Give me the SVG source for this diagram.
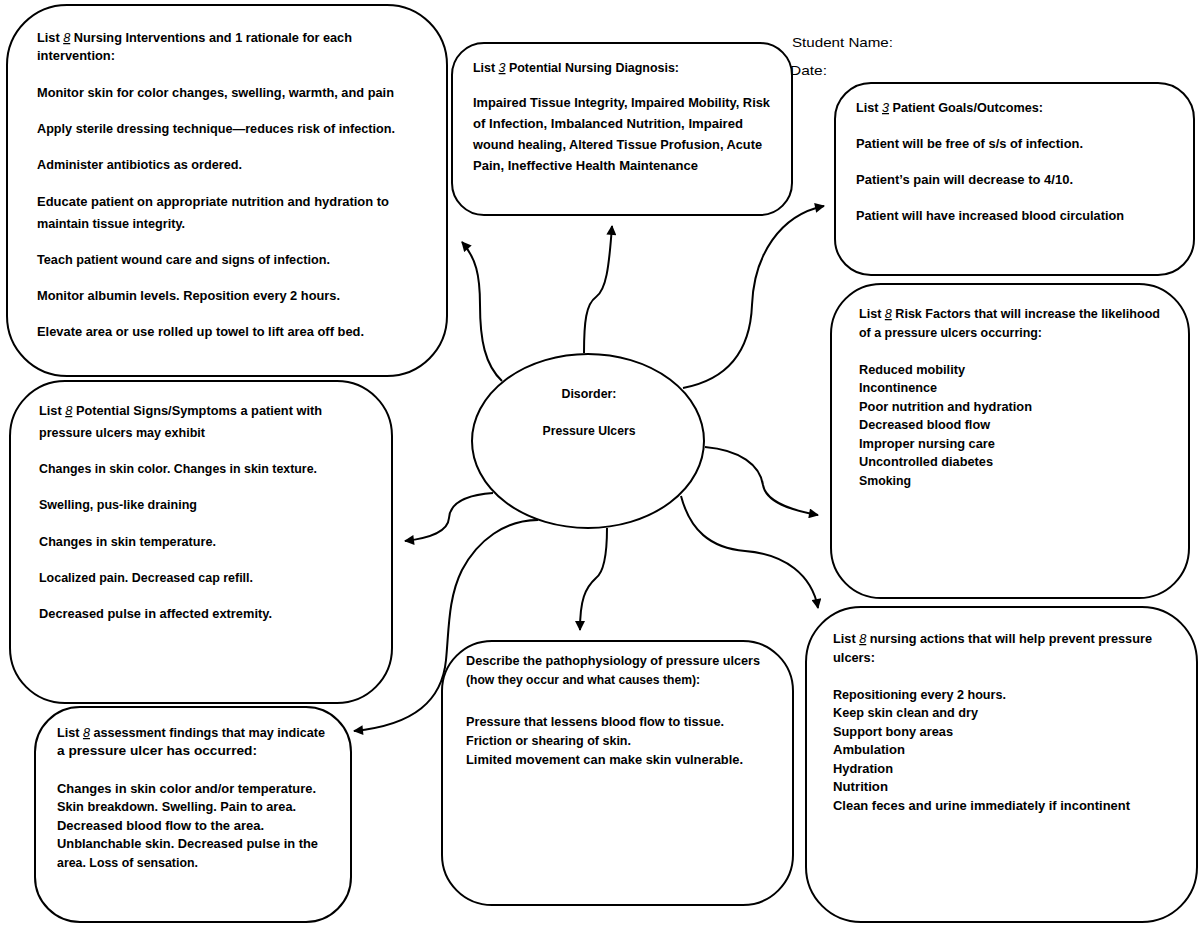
<svg xmlns="http://www.w3.org/2000/svg" width="1200" height="927" viewBox="0 0 1200 927">
<style>
.box{fill:#fff;stroke:#000;stroke-width:2}
.t{font-family:"Liberation Sans",Arial,sans-serif;font-size:12.5px;font-weight:bold;fill:#000}
.h{font-family:"Liberation Sans",Arial,sans-serif;font-size:13px;fill:#000}
.u{text-decoration:underline;font-style:italic;font-weight:normal}
.c{fill:none;stroke:#000;stroke-width:2}
</style>
<defs>
<marker id="arr" viewBox="0 0 10 10" refX="9" refY="5" markerWidth="11" markerHeight="10" markerUnits="userSpaceOnUse" orient="auto">
<path d="M0,0 L10,5 L0,10 z" fill="#000"/>
</marker>
</defs>
<rect width="1200" height="927" fill="#fff"/>

<g id="connectors">
<path class="c" marker-end="url(#arr)" d="M502,381 C485,365 480,340 480,305 C480,275 476,258 462,242"/>
<path class="c" marker-end="url(#arr)" d="M584,353 C584,322 586,304 596,297 C606,290 609,268 612,226"/>
<path class="c" marker-end="url(#arr)" d="M683,388 C725,380 750,355 752,305 C754,255 780,215 824,206"/>
<path class="c" marker-end="url(#arr)" d="M705,447 C740,450 760,465 763,485 C766,502 790,510 818,515"/>
<path class="c" marker-end="url(#arr)" d="M681,496 C690,530 710,548 745,551 C785,554 812,575 818,608"/>
<path class="c" marker-end="url(#arr)" d="M607,528 C607,555 604,572 596,578 C585,588 580,600 580,630"/>
<path class="c" marker-end="url(#arr)" d="M493,493 C465,495 450,503 449,518 C448,532 430,538 405,541"/>
<path class="c" marker-end="url(#arr)" d="M538,520 C505,520 478,540 462,570 C448,598 449,630 446,660 C442,700 415,725 354,731"/>
</g>

<g id="interventions">
<rect class="box" x="7" y="5" width="440" height="371" rx="60" ry="60"/>
<text class="t" x="37" y="42" textLength="315" lengthAdjust="spacingAndGlyphs">List <tspan class="u">8</tspan> Nursing Interventions and 1 rationale for each</text>
<text class="t" x="37" y="60" textLength="78" lengthAdjust="spacingAndGlyphs">intervention:</text>
<text class="t" x="37" y="97" textLength="357" lengthAdjust="spacingAndGlyphs">Monitor skin for color changes, swelling, warmth, and pain</text>
<text class="t" x="37" y="133" textLength="358" lengthAdjust="spacingAndGlyphs">Apply sterile dressing technique—reduces risk of infection.</text>
<text class="t" x="37" y="169" textLength="205" lengthAdjust="spacingAndGlyphs">Administer antibiotics as ordered.</text>
<text class="t" x="37" y="206" textLength="352" lengthAdjust="spacingAndGlyphs">Educate patient on appropriate nutrition and hydration to</text>
<text class="t" x="37" y="228" textLength="148" lengthAdjust="spacingAndGlyphs">maintain tissue integrity.</text>
<text class="t" x="37" y="264" textLength="293" lengthAdjust="spacingAndGlyphs">Teach patient wound care and signs of infection.</text>
<text class="t" x="37" y="300" textLength="303" lengthAdjust="spacingAndGlyphs">Monitor albumin levels. Reposition every 2 hours.</text>
<text class="t" x="37" y="336" textLength="327" lengthAdjust="spacingAndGlyphs">Elevate area or use rolled up towel to lift area off bed.</text>
</g>

<g id="diagnosis">
<rect class="box" x="452" y="43" width="340" height="172" rx="32" ry="32"/>
<text class="t" x="473" y="72" textLength="206" lengthAdjust="spacingAndGlyphs">List <tspan class="u">3</tspan> Potential Nursing Diagnosis:</text>
<text class="t" x="473" y="107" textLength="297" lengthAdjust="spacingAndGlyphs">Impaired Tissue Integrity, Impaired Mobility, Risk</text>
<text class="t" x="473" y="128" textLength="270" lengthAdjust="spacingAndGlyphs">of Infection, Imbalanced Nutrition, Impaired</text>
<text class="t" x="473" y="149" textLength="289" lengthAdjust="spacingAndGlyphs">wound healing, Altered Tissue Profusion, Acute</text>
<text class="t" x="473" y="170" textLength="225" lengthAdjust="spacingAndGlyphs">Pain, Ineffective Health Maintenance</text>
</g>

<g id="header">
<text class="h" x="792" y="47" textLength="101" lengthAdjust="spacingAndGlyphs">Student Name:</text>
<text class="h" x="790" y="75" textLength="37" lengthAdjust="spacingAndGlyphs">Date:</text>
</g>

<g id="goals">
<rect class="box" x="835" y="83" width="359" height="192" rx="36" ry="36"/>
<text class="t" x="856" y="112" textLength="187" lengthAdjust="spacingAndGlyphs">List <tspan class="u">3</tspan> Patient Goals/Outcomes:</text>
<text class="t" x="856" y="148" textLength="227" lengthAdjust="spacingAndGlyphs">Patient will be free of s/s of infection.</text>
<text class="t" x="856" y="184" textLength="217" lengthAdjust="spacingAndGlyphs">Patient’s pain will decrease to 4/10.</text>
<text class="t" x="856" y="220" textLength="268" lengthAdjust="spacingAndGlyphs">Patient will have increased blood circulation</text>
</g>

<g id="risk">
<rect class="box" x="831" y="284" width="358" height="314" rx="50" ry="50"/>
<text class="t" x="859" y="318" textLength="301" lengthAdjust="spacingAndGlyphs">List <tspan class="u">8</tspan> Risk Factors that will increase the likelihood</text>
<text class="t" x="859" y="337" textLength="183" lengthAdjust="spacingAndGlyphs">of a pressure ulcers occurring:</text>
<text class="t" x="859" y="374" textLength="106" lengthAdjust="spacingAndGlyphs">Reduced mobility</text>
<text class="t" x="859" y="392" textLength="78" lengthAdjust="spacingAndGlyphs">Incontinence</text>
<text class="t" x="859" y="411" textLength="173" lengthAdjust="spacingAndGlyphs">Poor nutrition and hydration</text>
<text class="t" x="859" y="429" textLength="131" lengthAdjust="spacingAndGlyphs">Decreased blood flow</text>
<text class="t" x="859" y="448" textLength="136" lengthAdjust="spacingAndGlyphs">Improper nursing care</text>
<text class="t" x="859" y="466" textLength="134" lengthAdjust="spacingAndGlyphs">Uncontrolled diabetes</text>
<text class="t" x="859" y="485" textLength="52" lengthAdjust="spacingAndGlyphs">Smoking</text>
</g>

<g id="signs">
<rect class="box" x="10" y="381" width="382" height="322" rx="55" ry="55"/>
<text class="t" x="39" y="415" textLength="283" lengthAdjust="spacingAndGlyphs">List <tspan class="u">8</tspan> Potential Signs/Symptoms a patient with</text>
<text class="t" x="39" y="437" textLength="166" lengthAdjust="spacingAndGlyphs">pressure ulcers may exhibit</text>
<text class="t" x="39" y="473" textLength="278" lengthAdjust="spacingAndGlyphs">Changes in skin color. Changes in skin texture.</text>
<text class="t" x="39" y="509" textLength="158" lengthAdjust="spacingAndGlyphs">Swelling, pus-like draining</text>
<text class="t" x="39" y="546" textLength="177" lengthAdjust="spacingAndGlyphs">Changes in skin temperature.</text>
<text class="t" x="39" y="582" textLength="214" lengthAdjust="spacingAndGlyphs">Localized pain. Decreased cap refill.</text>
<text class="t" x="39" y="618" textLength="233" lengthAdjust="spacingAndGlyphs">Decreased pulse in affected extremity.</text>
</g>

<g id="assessment">
<rect class="box" x="35" y="707" width="316" height="215" rx="45" ry="45"/>
<text class="t" x="57" y="737" textLength="268" lengthAdjust="spacingAndGlyphs">List <tspan class="u">8</tspan> assessment findings that may indicate</text>
<text class="t" x="57" y="755" textLength="200" lengthAdjust="spacingAndGlyphs">a pressure ulcer has occurred:</text>
<text class="t" x="57" y="793" textLength="259" lengthAdjust="spacingAndGlyphs">Changes in skin color and/or temperature.</text>
<text class="t" x="57" y="811" textLength="239" lengthAdjust="spacingAndGlyphs">Skin breakdown. Swelling. Pain to area.</text>
<text class="t" x="57" y="830" textLength="207" lengthAdjust="spacingAndGlyphs">Decreased blood flow to the area.</text>
<text class="t" x="57" y="848" textLength="261" lengthAdjust="spacingAndGlyphs">Unblanchable skin. Decreased pulse in the</text>
<text class="t" x="57" y="867" textLength="141" lengthAdjust="spacingAndGlyphs">area. Loss of sensation.</text>
</g>

<g id="pathophysiology">
<rect class="box" x="442" y="641" width="351" height="264" rx="50" ry="50"/>
<text class="t" x="466" y="665" textLength="294" lengthAdjust="spacingAndGlyphs">Describe the pathophysiology of pressure ulcers</text>
<text class="t" x="466" y="684" textLength="234" lengthAdjust="spacingAndGlyphs">(how they occur and what causes them):</text>
<text class="t" x="466" y="726" textLength="258" lengthAdjust="spacingAndGlyphs">Pressure that lessens blood flow to tissue.</text>
<text class="t" x="466" y="745" textLength="165" lengthAdjust="spacingAndGlyphs">Friction or shearing of skin.</text>
<text class="t" x="466" y="764" textLength="277" lengthAdjust="spacingAndGlyphs">Limited movement can make skin vulnerable.</text>
</g>

<g id="prevention">
<rect class="box" x="806" y="607" width="391" height="315" rx="55" ry="55"/>
<text class="t" x="833" y="643" textLength="319" lengthAdjust="spacingAndGlyphs">List <tspan class="u">8</tspan> nursing actions that will help prevent pressure</text>
<text class="t" x="833" y="662" textLength="42" lengthAdjust="spacingAndGlyphs">ulcers:</text>
<text class="t" x="833" y="699" textLength="173" lengthAdjust="spacingAndGlyphs">Repositioning every 2 hours.</text>
<text class="t" x="833" y="717" textLength="145" lengthAdjust="spacingAndGlyphs">Keep skin clean and dry</text>
<text class="t" x="833" y="736" textLength="120" lengthAdjust="spacingAndGlyphs">Support bony areas</text>
<text class="t" x="833" y="754" textLength="72" lengthAdjust="spacingAndGlyphs">Ambulation</text>
<text class="t" x="833" y="773" textLength="60" lengthAdjust="spacingAndGlyphs">Hydration</text>
<text class="t" x="833" y="791" textLength="55" lengthAdjust="spacingAndGlyphs">Nutrition</text>
<text class="t" x="833" y="810" textLength="297" lengthAdjust="spacingAndGlyphs">Clean feces and urine immediately if incontinent</text>
</g>

<g id="disorder">
<ellipse class="box" cx="588" cy="441" rx="116" ry="87"/>
<text class="t" x="589" y="398" text-anchor="middle" textLength="55" lengthAdjust="spacingAndGlyphs">Disorder:</text>
<text class="t" x="589" y="435" text-anchor="middle" textLength="93" lengthAdjust="spacingAndGlyphs">Pressure Ulcers</text>
</g>
</svg>
